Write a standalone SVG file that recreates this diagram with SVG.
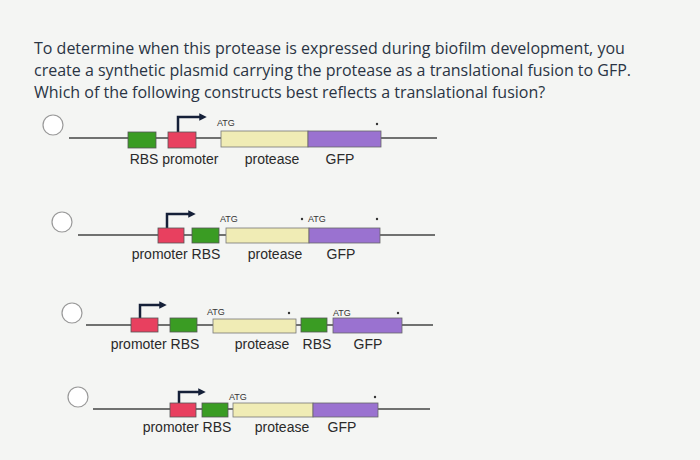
<svg xmlns="http://www.w3.org/2000/svg" width="700" height="460" viewBox="0 0 700 460">
<style>
.q{font-family:"Open Sans","Liberation Sans",sans-serif;font-size:16px;fill:#2a3444}
.lb{font-family:"Liberation Sans",Arial,sans-serif;font-size:14px;fill:#2a2a2a;text-anchor:middle}
.atg{font-family:"Liberation Sans",Arial,sans-serif;font-size:9px;fill:#333}
.bb{stroke:#444;stroke-width:1.5}
.rad{fill:#fff;stroke:#999;stroke-width:1.2}
.red{fill:#e8405f;stroke:#555;stroke-width:0.8}
.grn{fill:#3a9c23;stroke:#555;stroke-width:0.8}
.yel{fill:#f0ecb5;stroke:#777;stroke-width:0.8}
.pur{fill:#9a72d0;stroke:#666;stroke-width:0.8}
.arr{fill:none;stroke:#152038;stroke-width:2.5}
.dot{fill:#333}
</style>
<defs><marker id="ah" viewBox="0 0 6 6" refX="3" refY="3" markerWidth="3" markerHeight="3" orient="auto"><path d="M0,0L6,3L0,6z" fill="#152038"/></marker></defs>
<rect width="700" height="460" fill="#f4f5f3"/>
<text class="q" x="34" y="54">To determine when this protease is expressed during biofilm development, you</text>
<text class="q" x="34" y="76">create a synthetic plasmid carrying the protease as a translational fusion to GFP.</text>
<text class="q" x="34" y="98">Which of the following constructs best reflects a translational fusion?</text>
<g id="connectors">
<line class="bb" x1="69" y1="138" x2="437" y2="138"/>
<line class="bb" x1="78" y1="235" x2="435" y2="235"/>
<line class="bb" x1="86" y1="325" x2="433" y2="325"/>
<line class="bb" x1="93" y1="409" x2="430" y2="409"/>
<path class="arr" d="M178,132V117H203" marker-end="url(#ah)"/>
<path class="arr" d="M167,228V214H192" marker-end="url(#ah)"/>
<path class="arr" d="M140,318V305H163" marker-end="url(#ah)"/>
<path class="arr" d="M179,403V392H202" marker-end="url(#ah)"/>
</g>
<g id="c1">
<circle class="rad" cx="53" cy="125" r="10"/>
<rect class="grn" x="128" y="132" width="28" height="16"/>
<rect class="red" x="168" y="132" width="28" height="16"/>
<rect class="yel" x="221" y="131" width="87" height="16"/>
<rect class="pur" x="308" y="131" width="73" height="16"/>
<text class="atg" x="217" y="126">ATG</text><circle class="dot" cx="377" cy="124" r="1.2"/>
<text class="lb" x="174" y="164">RBS promoter</text><text class="lb" x="272" y="164">protease</text><text class="lb" x="340" y="164">GFP</text>
</g>
<g id="c2">
<circle class="rad" cx="62" cy="222" r="10"/>
<rect class="red" x="158" y="228" width="26" height="15"/>
<rect class="grn" x="192" y="228" width="27" height="15"/>
<rect class="yel" x="226" y="228" width="83" height="15"/>
<rect class="pur" x="309" y="228" width="71" height="15"/>
<text class="atg" x="220" y="222">ATG</text><circle class="dot" cx="302" cy="219" r="1.2"/><text class="atg" x="308" y="222">ATG</text><circle class="dot" cx="377" cy="219" r="1.2"/>
<text class="lb" x="176" y="259">promoter RBS</text><text class="lb" x="275" y="259">protease</text><text class="lb" x="341" y="259">GFP</text>
</g>
<g id="c3">
<circle class="rad" cx="72" cy="313" r="10"/>
<rect class="red" x="131" y="318" width="27" height="14"/>
<rect class="grn" x="170" y="318" width="27" height="14"/>
<rect class="yel" x="213" y="319" width="83" height="14"/>
<rect class="grn" x="301" y="318" width="26" height="14"/>
<rect class="pur" x="333" y="318" width="69" height="15"/>
<text class="atg" x="207" y="315">ATG</text><circle class="dot" cx="289" cy="313" r="1.2"/><text class="atg" x="333" y="316">ATG</text><circle class="dot" cx="398" cy="313" r="1.2"/>
<text class="lb" x="155" y="349">promoter RBS</text><text class="lb" x="262" y="349">protease</text><text class="lb" x="317" y="349">RBS</text><text class="lb" x="368" y="349">GFP</text>
</g>
<g id="c4">
<circle class="rad" cx="78" cy="397" r="10"/>
<rect class="red" x="170" y="403" width="26" height="14"/>
<rect class="grn" x="202" y="403" width="26" height="14"/>
<rect class="yel" x="233" y="403" width="80" height="14"/>
<rect class="pur" x="313" y="403" width="65" height="14"/>
<text class="atg" x="229" y="400">ATG</text><circle class="dot" cx="375" cy="397" r="1.2"/>
<text class="lb" x="187" y="432">promoter RBS</text><text class="lb" x="282" y="432">protease</text><text class="lb" x="342" y="432">GFP</text>
</g>
</svg>
